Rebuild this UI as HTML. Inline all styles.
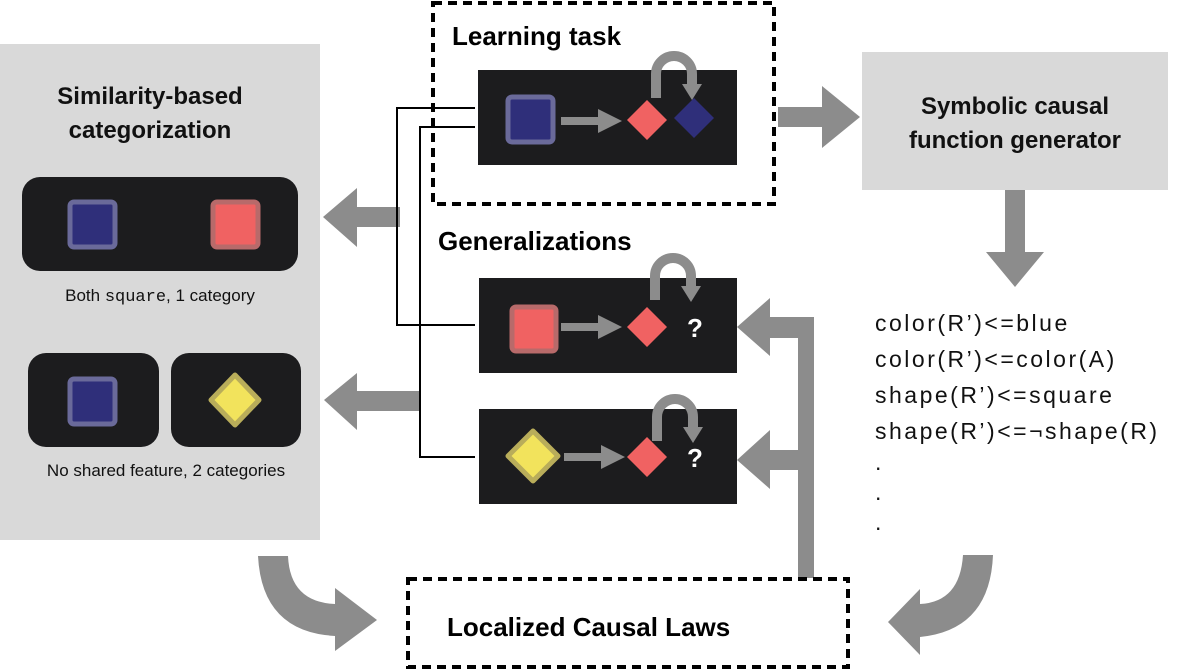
<!DOCTYPE html>
<html><head><meta charset="utf-8"><style>
html,body{margin:0;padding:0;background:#fff;width:1200px;height:672px;overflow:hidden}
svg text{font-family:"Liberation Sans",Arial,sans-serif}
</style></head><body>
<svg width="1200" height="672" viewBox="0 0 1200 672" xmlns="http://www.w3.org/2000/svg">
<defs>
<g id="loop"><path d="M0 0 V-24 a18 18 0 0 1 36 0 V-12" fill="none" stroke="#8c8c8c" stroke-width="10"/><path d="M26 -14 H46 L36 2 Z" fill="#8c8c8c"/></g>
</defs>
<!-- left panel -->
<rect x="0" y="44" width="320" height="496" fill="#d9d9d9"/>
<text x="150" y="104" font-size="24" font-weight="bold" text-anchor="middle" fill="#111">Similarity-based</text>
<text x="150" y="138" font-size="24" font-weight="bold" text-anchor="middle" fill="#111">categorization</text>
<rect x="22" y="177" width="276" height="94" rx="18" fill="#1c1c1e"/>
<rect x="70" y="202" width="45" height="45" rx="4" fill="#2f2f7a" stroke="#6a6a9a" stroke-width="5"/>
<rect x="213" y="202" width="45" height="45" rx="4" fill="#f06262" stroke="#b86a6a" stroke-width="5"/>
<text x="160" y="301" font-size="17" text-anchor="middle" fill="#111">Both <tspan font-family="Liberation Mono,monospace">square</tspan>, 1 category</text>
<rect x="28" y="353" width="131" height="94" rx="18" fill="#1c1c1e"/>
<rect x="171" y="353" width="130" height="94" rx="18" fill="#1c1c1e"/>
<rect x="70" y="379" width="45" height="45" rx="4" fill="#2f2f7a" stroke="#6a6a9a" stroke-width="5"/>
<path d="M235 375 L259 400 L235 425 L211 400 Z" fill="#f2e35c" stroke="#b9ad5a" stroke-width="5" stroke-linejoin="round"/>
<text x="166" y="476" font-size="17" text-anchor="middle" fill="#111">No shared feature, 2 categories</text>
<!-- left arrows -->
<path d="M323 217 L357 188 V207 H400 V227 H357 V247 Z" fill="#8c8c8c"/>
<path d="M324 400 L357 373 V391 H420 V411 H357 V430 Z" fill="#8c8c8c"/>
<!-- learning task -->
<rect x="433" y="3" width="341" height="201" fill="none" stroke="#000" stroke-width="4" stroke-dasharray="9 6"/>
<text x="452" y="45" font-size="26" font-weight="bold" fill="#000">Learning task</text>
<rect x="478" y="70" width="259" height="95" fill="#1c1c1e"/>
<rect x="508" y="97" width="45" height="45" rx="4" fill="#2f2f7a" stroke="#6a6a9a" stroke-width="5"/>
<path d="M561 117 H598 V109 L622 121 L598 133 V125 H561 Z" fill="#8c8c8c"/>
<path d="M647 100 L667 120 L647 140 L627 120 Z" fill="#f06262"/>
<path d="M694 98 L714 118 L694 138 L674 118 Z" fill="#2f2f7a"/>
<use href="#loop" x="656" y="98"/>
<!-- connectors -->
<path d="M475 108 H397 V325 H475" fill="none" stroke="#000" stroke-width="2"/>
<path d="M475 127 H420 V457 H475" fill="none" stroke="#000" stroke-width="2"/>
<!-- generalizations -->
<text x="438" y="250" font-size="26" font-weight="bold" fill="#000">Generalizations</text>
<rect x="479" y="278" width="258" height="95" fill="#1c1c1e"/>
<rect x="512" y="307" width="44" height="44" rx="4" fill="#f06262" stroke="#b86a6a" stroke-width="5"/>
<path d="M561 323 H598 V315 L622 327 L598 339 V331 H561 Z" fill="#8c8c8c"/>
<path d="M647 307 L667 327 L647 347 L627 327 Z" fill="#f06262"/>
<text x="695" y="337" font-size="26" font-weight="bold" fill="#fff" text-anchor="middle">?</text>
<use href="#loop" x="655" y="300"/>
<rect x="479" y="409" width="258" height="95" fill="#1c1c1e"/>
<path d="M533 431 L558 456 L533 481 L508 456 Z" fill="#f2e35c" stroke="#b9ad5a" stroke-width="5" stroke-linejoin="round"/>
<path d="M564 453 H601 V445 L625 457 L601 469 V461 H564 Z" fill="#8c8c8c"/>
<path d="M647 437 L667 457 L647 477 L627 457 Z" fill="#f06262"/>
<text x="695" y="467" font-size="26" font-weight="bold" fill="#fff" text-anchor="middle">?</text>
<use href="#loop" x="657" y="441"/>
<!-- right feedback arrows -->
<path d="M798 578 V338 H770 V356 L737 327 L770 298 V317 H814 V578 Z" fill="#8c8c8c"/>
<path d="M798 450 H770 V430 L737 460 L770 489 V470 H798 Z" fill="#8c8c8c"/>
<!-- arrow to symbolic -->
<path d="M778 107 H822 V86 L860 117 L822 148 V127 H778 Z" fill="#8c8c8c"/>
<rect x="862" y="52" width="306" height="138" fill="#d9d9d9"/>
<text x="1015" y="114" font-size="24" font-weight="bold" text-anchor="middle" fill="#111">Symbolic causal</text>
<text x="1015" y="148" font-size="24" font-weight="bold" text-anchor="middle" fill="#111">function generator</text>
<path d="M1005 190 H1025 V252 H1044 L1015 287 L986 252 H1005 Z" fill="#8c8c8c"/>
<g font-family="Liberation Mono,monospace" font-size="23" fill="#111" letter-spacing="2.5">
<text x="875" y="331">color(R’)&lt;=blue</text>
<text x="875" y="367">color(R’)&lt;=color(A)</text>
<text x="875" y="403">shape(R’)&lt;=square</text>
<text x="875" y="439">shape(R’)&lt;=¬shape(R)</text>
<text x="875" y="470">.</text>
<text x="875" y="500">.</text>
<text x="875" y="530">.</text>
</g>
<!-- localized -->
<rect x="408" y="579" width="440" height="88" fill="none" stroke="#000" stroke-width="4" stroke-dasharray="9 6"/>
<text x="447" y="636" font-size="26" font-weight="bold" fill="#000">Localized Causal Laws</text>
<!-- curved arrows -->
<path d="M258 556 H288 Q290 602 335 604 V588 L377 620 L335 651 V636 Q262 632 258 556 Z" fill="#8c8c8c"/>
<path d="M993 555 H963 Q960 602 920 604 V589 L888 622 L920 655 V637 Q990 630 993 555 Z" fill="#8c8c8c"/>
</svg>
</body></html>
